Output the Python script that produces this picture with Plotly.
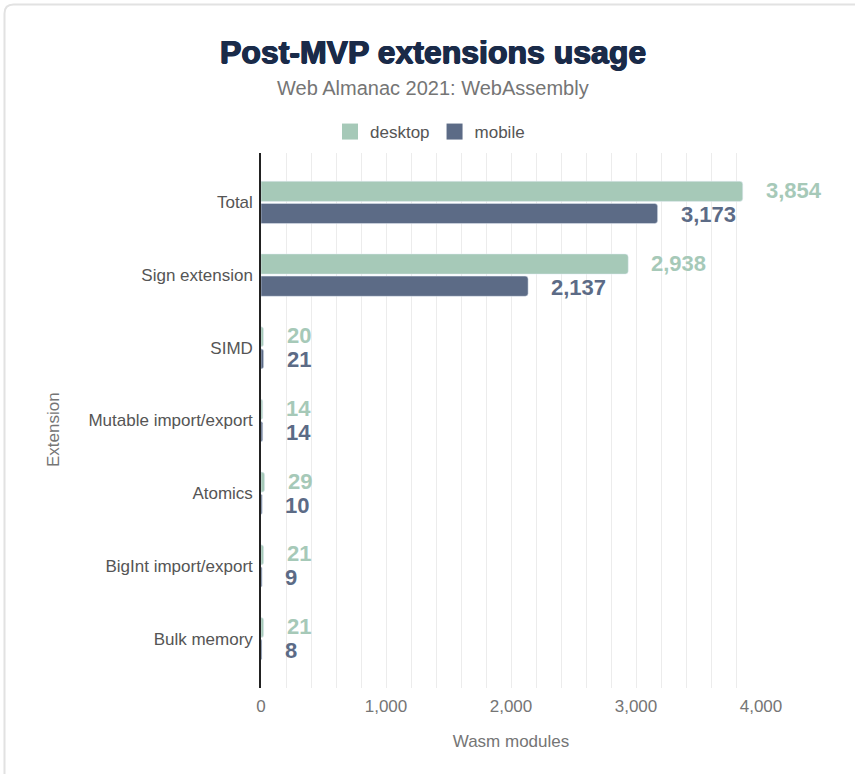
import plotly.graph_objects as go

categories = [
    "Total",
    "Sign extension",
    "SIMD",
    "Mutable import/export",
    "Atomics",
    "BigInt import/export",
    "Bulk memory",
]
desktop = [3854, 2938, 20, 14, 29, 21, 21]
mobile = [3173, 2137, 21, 14, 10, 9, 8]

DESKTOP_COLOR = "#a6c9b8"
MOBILE_COLOR = "#5c6b86"
FONT = "Liberation Sans, Arial, sans-serif"

W, H = 855, 774
L, R, T, B = 261, 94, 153, 86
PW, PH = W - L - R, H - T - B


def px_x(p):
    return (p - L) / PW


def px_y(p):
    return (H - B - p) / PH


fig = go.Figure()
for name, vals, col in (("desktop", desktop, DESKTOP_COLOR), ("mobile", mobile, MOBILE_COLOR)):
    fig.add_trace(
        go.Bar(
            name=name,
            y=categories,
            x=vals,
            orientation="h",
            marker=dict(color=col, cornerradius=3),
            showlegend=False,
            hoverinfo="x+y",
        )
    )
    # legend entry with a bigger square swatch
    fig.add_trace(
        go.Scatter(
            name=name,
            x=[None],
            y=[None],
            mode="markers",
            marker=dict(symbol="square", size=17, color=col),
        )
    )

# value labels beside the bars
annotations = []
for cat, d, m in zip(categories, desktop, mobile):
    for val, col, shift in ((d, DESKTOP_COLOR, 12), (m, MOBILE_COLOR, -12)):
        annotations.append(
            dict(
                x=val,
                y=cat,
                xref="x",
                yref="y",
                text=f"{val:,}",
                showarrow=False,
                xanchor="left",
                yanchor="middle",
                xshift=21,
                yshift=shift,
                font=dict(family=FONT, size=22, color=col, weight="bold"),
            )
        )

TITLE_COLOR = "#1a2b49"
annotations += [
    dict(
        text="Post-MVP extensions usage",
        x=px_x(433),
        y=px_y(52),
        xref="paper",
        yref="paper",
        showarrow=False,
        xanchor="center",
        yanchor="middle",
        font=dict(
            family=FONT,
            size=32,
            color=TITLE_COLOR,
            weight="bold",
            shadow=f"0.7px 0 0 {TITLE_COLOR}, -0.7px 0 0 {TITLE_COLOR}, 0 0.5px 0 {TITLE_COLOR}",
        ),
    ),
    dict(
        text="Web Almanac 2021: WebAssembly",
        x=px_x(433),
        y=px_y(88),
        xref="paper",
        yref="paper",
        showarrow=False,
        xanchor="center",
        yanchor="middle",
        font=dict(family=FONT, size=20, color="#757575"),
    ),
    dict(
        text="Extension",
        x=px_x(53),
        y=px_y(430),
        xref="paper",
        yref="paper",
        showarrow=False,
        textangle=-90,
        xanchor="center",
        yanchor="middle",
        font=dict(family=FONT, size=17, color="#757575"),
    ),
]

# card outline: only the top and left edges are in view
cx0, cy0, rad = 4.5, 4.5, 9
card_path = (
    f"M {px_x(cx0)},{px_y(H + 5)} "
    f"L {px_x(cx0)},{px_y(cy0 + rad)} "
    f"Q {px_x(cx0)},{px_y(cy0)} {px_x(cx0 + rad)},{px_y(cy0)} "
    f"L {px_x(W + 5)},{px_y(cy0)}"
)
card = dict(
    type="path",
    xref="paper",
    yref="paper",
    path=card_path,
    line=dict(color="#e2e2e2", width=2),
    layer="below",
)

fig.update_layout(
    width=W,
    height=H,
    margin=dict(l=L, r=R, t=T, b=B),
    paper_bgcolor="white",
    plot_bgcolor="white",
    barmode="group",
    bargap=0.39,
    bargroupgap=0.09,
    font=dict(family=FONT, size=17, color="#555555"),
    legend=dict(
        orientation="h",
        x=px_x(430),
        y=px_y(132),
        xanchor="center",
        yanchor="middle",
        font=dict(size=17, color="#555555"),
    ),
    annotations=annotations,
    shapes=[card],
    xaxis=dict(
        range=[0, 4000],
        tickvals=[0, 1000, 2000, 3000, 4000],
        tickformat=",",
        showgrid=False,
        minor=dict(dtick=200, showgrid=True, gridcolor="#ececec", gridwidth=1),
        zeroline=False,
        ticks="",
        ticklabelstandoff=6,
        tickfont=dict(size=17, color="#757575"),
        title=dict(text="Wasm modules", font=dict(size=17, color="#757575"), standoff=20),
        fixedrange=True,
    ),
    yaxis=dict(
        categoryorder="array",
        categoryarray=categories,
        range=[6.68, -0.68],
        showline=True,
        linecolor="#222222",
        linewidth=1.5,
        ticks="",
        ticklabelstandoff=3,
        tickfont=dict(size=17, color="#555555"),
        fixedrange=True,
    ),
)

fig.write_html(
    "out.html",
    config={"displayModeBar": False},
    post_script="document.body.style.margin='0';",
)
